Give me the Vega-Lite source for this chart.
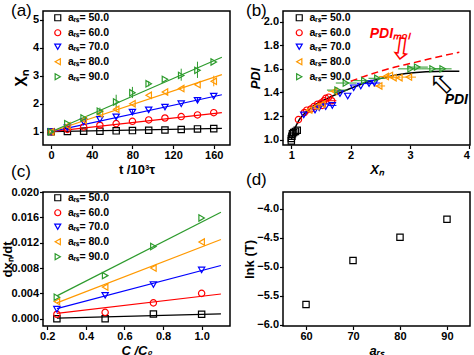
{
  "$schema": "https://vega.github.io/schema/vega-lite/v6.json",
  "background": "white",
  "autosize": {"type": "pad"},
  "padding": {"left": 0, "top": 1, "right": 0, "bottom": 0},
  "columns": 2,
  "spacing": {"row": 47, "column": 53},
  "bounds": "flush",
  "resolve": {
    "scale": {"x": "independent", "y": "independent", "color": "independent", "shape": "independent", "stroke": "independent"},
    "axis": {"x": "independent", "y": "independent"},
    "legend": {"color": "independent", "shape": "independent", "stroke": "independent"}
  },
  "config": {
    "font": "Liberation Sans",
    "view": {"stroke": "#000000", "strokeWidth": 1.5},
    "axis": {
      "grid": false, "domain": false,
      "tickColor": "#000000", "tickSize": 3.5, "tickWidth": 1.2,
      "labelFont": "Liberation Sans", "labelFontSize": 11, "labelFontWeight": "bold", "labelColor": "#000000", "labelPadding": 1,
      "titleFont": "Liberation Sans", "titleFontSize": 13, "titleFontWeight": "bold", "titleColor": "#000000", "titlePadding": 1
    },
    "axisX": {"titlePadding": 2.5},
    "axisY": {"titleBaseline": "middle"},
    "title": {"anchor": "start", "frame": "group", "font": "Liberation Sans", "fontSize": 17, "fontWeight": "normal", "color": "#000000", "baseline": "middle"},
    "legend": {
      "labelFont": "Liberation Sans", "labelFontSize": 10.5, "labelFontWeight": "bold", "labelColor": "#000000",
      "symbolSize": 36, "symbolStrokeWidth": 1.2, "labelOffset": 5, "rowPadding": 3, "padding": 0
    }
  },
  "concat": [
    {
      "width": 187, "height": 134,
      "title": {"text": "(a)", "offset": -9, "dx": -32},
      "encoding": {
        "x": {"field": "t", "type": "quantitative", "scale": {"domain": [-8, 176], "nice": false, "zero": false}, "axis": {"values": [0, 40, 80, 120, 160], "title": "t /10³τ"}},
        "y": {"field": "Xn", "type": "quantitative", "scale": {"domain": [0.525, 5.31], "nice": false, "zero": false}, "axis": {"values": [1, 2, 3, 4, 5], "title": "Xₙ", "titleX": -22, "titleFontSize": 16}}
      },
      "layer": [
        {
          "data": {"name": "a_fit"},
          "mark": {"type": "line", "strokeWidth": 1.2},
          "encoding": {
            "stroke": {"field": "aRS", "type": "nominal", "scale": {"domain": [50, 60, 70, 80, 90, 0], "range": ["#000000", "#ff0000", "#0000ff", "#ff9900", "#2d9b2d", "#888888"]}, "legend": null}
          }
        },
        {
          "data": {"name": "a_err"},
          "mark": {"type": "rule", "strokeWidth": 1},
          "encoding": {
            "y": {"field": "lo", "type": "quantitative", "scale": {"domain": [0.525, 5.31], "nice": false, "zero": false}, "axis": {"values": [1, 2, 3, 4, 5], "title": "Xₙ", "titleX": -22, "titleFontSize": 16}},
            "y2": {"field": "hi"},
            "stroke": {"field": "aRS", "type": "nominal", "scale": {"domain": [50, 60, 70, 80, 90, 0], "range": ["#000000", "#ff0000", "#0000ff", "#ff9900", "#2d9b2d", "#888888"]}, "legend": null}
          }
        },
        {
          "data": {"name": "a_pts"},
          "mark": {"type": "point", "filled": false, "size": 40, "strokeWidth": 1.2, "opacity": 1},
          "encoding": {
            "color": {"field": "aRS", "type": "nominal", "scale": {"domain": [50, 60, 70, 80, 90], "range": ["#000000", "#ff0000", "#0000ff", "#ff9900", "#2d9b2d"]},
              "legend": {"title": null, "orient": "none", "legendX": 9.5, "legendY": 1.5, "labelExpr": "'aᵣₛ= ' + format(datum.value, '.1f')"}},
            "shape": {"field": "aRS", "type": "nominal", "scale": {"domain": [50, 60, 70, 80, 90], "range": ["square", "circle", "triangle-down", "triangle-left", "triangle-right"]},
              "legend": {"title": null, "orient": "none", "legendX": 9.5, "legendY": 1.5, "labelExpr": "'aᵣₛ= ' + format(datum.value, '.1f')"}}
          }
        }
      ]
    },
    {
      "width": 187, "height": 134,
      "title": {"text": "(b)", "offset": -9, "dx": -37},
      "encoding": {
        "x": {"field": "X", "type": "quantitative", "scale": {"domain": [0.86, 4.01], "nice": false, "zero": false}, "axis": {"values": [1, 2, 3, 4], "title": "Xₙ", "titleFontStyle": "italic"}},
        "y": {"field": "PDI", "type": "quantitative", "scale": {"domain": [0.955, 2.09], "nice": false, "zero": false}, "axis": {"values": [1.0, 1.2, 1.4, 1.6, 1.8, 2.0], "format": ".1f", "title": "PDI", "titleFontStyle": "italic", "titleX": -28}}
      },
      "layer": [
        {
          "data": {"name": "b_pdi"},
          "mark": {"type": "line", "strokeWidth": 1.5, "color": "#000000", "interpolate": "monotone"}
        },
        {
          "data": {"name": "b_mol"},
          "mark": {"type": "line", "strokeWidth": 1.5, "color": "#ff0000", "strokeDash": [7, 4], "interpolate": "monotone"}
        },
        {
          "data": {"name": "b_err"},
          "mark": {"type": "rule", "strokeWidth": 1},
          "encoding": {
            "x": {"field": "xlo", "type": "quantitative", "scale": {"domain": [0.86, 4.01], "nice": false, "zero": false}, "axis": {"values": [1, 2, 3, 4], "title": "Xₙ", "titleFontStyle": "italic"}},
            "x2": {"field": "xhi"},
            "stroke": {"field": "aRS", "type": "nominal", "scale": {"domain": [50, 60, 70, 80, 90, 0], "range": ["#000000", "#ff0000", "#0000ff", "#ff9900", "#2d9b2d", "#888888"]}, "legend": null}
          }
        },
        {
          "data": {"name": "b_pts"},
          "mark": {"type": "point", "filled": false, "size": 40, "strokeWidth": 1.2, "opacity": 1},
          "encoding": {
            "color": {"field": "aRS", "type": "nominal", "scale": {"domain": [50, 60, 70, 80, 90], "range": ["#000000", "#ff0000", "#0000ff", "#ff9900", "#2d9b2d"]},
              "legend": {"title": null, "orient": "none", "legendX": 11, "legendY": 1.5, "labelExpr": "'aᵣₛ= ' + format(datum.value, '.1f')"}},
            "shape": {"field": "aRS", "type": "nominal", "scale": {"domain": [50, 60, 70, 80, 90], "range": ["square", "circle", "triangle-down", "triangle-left", "triangle-right"]},
              "legend": {"title": null, "orient": "none", "legendX": 11, "legendY": 1.5, "labelExpr": "'aᵣₛ= ' + format(datum.value, '.1f')"}}
          }
        },
        {
          "data": {"name": "b_ann"},
          "transform": [{"filter": "datum.k == 'moltext'"}],
          "mark": {"type": "text", "color": "#ff0000", "font": "Liberation Sans", "fontSize": 14, "fontWeight": "bold", "fontStyle": "italic"},
          "encoding": {"text": {"field": "label"}}
        },
        {
          "data": {"name": "b_ann"},
          "transform": [{"filter": "datum.k == 'pditext'"}],
          "mark": {"type": "text", "color": "#000000", "font": "Liberation Sans", "fontSize": 14, "fontWeight": "bold", "fontStyle": "italic"},
          "encoding": {"text": {"field": "label"}}
        },
        {
          "data": {"name": "b_ann"},
          "transform": [{"filter": "datum.k == 'molarrow'"}],
          "mark": {"type": "text", "color": "#ff0000", "font": "DejaVu Sans", "fontSize": 30, "angle": 8},
          "encoding": {"text": {"field": "label"}}
        },
        {
          "data": {"name": "b_ann"},
          "transform": [{"filter": "datum.k == 'pdiarrow'"}],
          "mark": {"type": "text", "color": "#000000", "font": "DejaVu Sans", "fontSize": 30, "angle": -45},
          "encoding": {"text": {"field": "label"}}
        }
      ]
    },
    {
      "width": 187, "height": 134,
      "title": {"text": "(c)", "offset": 5, "dx": -32},
      "encoding": {
        "x": {"field": "c", "type": "quantitative", "scale": {"domain": [0.178, 1.147], "nice": false, "zero": false}, "axis": {"values": [0.2, 0.4, 0.6, 0.8, 1.0], "format": ".1f", "title": "C /C₀", "titleFontStyle": "italic"}},
        "y": {"field": "rate", "type": "quantitative", "scale": {"domain": [-0.00115, 0.0200], "nice": false, "zero": false}, "axis": {"values": [0, 0.004, 0.008, 0.012, 0.016, 0.020], "format": ".3f", "title": "dxₙ/dt", "titleX": -36}}
      },
      "layer": [
        {
          "data": {"name": "c_fit"},
          "mark": {"type": "line", "strokeWidth": 1.2},
          "encoding": {
            "stroke": {"field": "aRS", "type": "nominal", "scale": {"domain": [50, 60, 70, 80, 90, 0], "range": ["#000000", "#ff0000", "#0000ff", "#ff9900", "#2d9b2d", "#888888"]}, "legend": null}
          }
        },
        {
          "data": {"name": "c_pts"},
          "mark": {"type": "point", "filled": false, "size": 40, "strokeWidth": 1.2, "opacity": 1},
          "encoding": {
            "color": {"field": "aRS", "type": "nominal", "scale": {"domain": [50, 60, 70, 80, 90], "range": ["#000000", "#ff0000", "#0000ff", "#ff9900", "#2d9b2d"]},
              "legend": {"title": null, "orient": "none", "legendX": 9.5, "legendY": 0.5, "labelExpr": "'aᵣₛ= ' + format(datum.value, '.1f')"}},
            "shape": {"field": "aRS", "type": "nominal", "scale": {"domain": [50, 60, 70, 80, 90], "range": ["square", "circle", "triangle-down", "triangle-left", "triangle-right"]},
              "legend": {"title": null, "orient": "none", "legendX": 9.5, "legendY": 0.5, "labelExpr": "'aᵣₛ= ' + format(datum.value, '.1f')"}}
          }
        }
      ]
    },
    {
      "width": 187, "height": 134,
      "title": {"text": "(d)", "offset": 3, "dx": -37},
      "data": {"name": "d_pts"},
      "mark": {"type": "point", "shape": "square", "filled": false, "size": 40, "strokeWidth": 1.2, "color": "#000000", "opacity": 1},
      "encoding": {
        "x": {"field": "a", "type": "quantitative", "scale": {"domain": [55.1, 94.9], "nice": false, "zero": false}, "axis": {"values": [60, 70, 80, 90], "title": "aᵣₛ", "titleFontStyle": "italic"}},
        "y": {"field": "lnk", "type": "quantitative", "scale": {"domain": [-6.02, -3.71], "nice": false, "zero": false}, "axis": {"values": [-6.0, -5.5, -5.0, -4.5, -4.0], "format": ".1f", "title": "lnk (T)", "titleX": -34}}
      }
    }
  ],
  "datasets": {
    "a_pts": [
      {"t": 0, "Xn": 1.0, "aRS": 50}, {"t": 16, "Xn": 1.01, "aRS": 50}, {"t": 32, "Xn": 1.02, "aRS": 50}, {"t": 48, "Xn": 1.02, "aRS": 50}, {"t": 64, "Xn": 1.03, "aRS": 50}, {"t": 80, "Xn": 1.04, "aRS": 50}, {"t": 96, "Xn": 1.05, "aRS": 50}, {"t": 112, "Xn": 1.06, "aRS": 50}, {"t": 128, "Xn": 1.08, "aRS": 50}, {"t": 144, "Xn": 1.10, "aRS": 50}, {"t": 160, "Xn": 1.11, "aRS": 50},
      {"t": 0, "Xn": 1.0, "aRS": 60}, {"t": 16, "Xn": 1.08, "aRS": 60}, {"t": 32, "Xn": 1.17, "aRS": 60}, {"t": 48, "Xn": 1.23, "aRS": 60}, {"t": 64, "Xn": 1.29, "aRS": 60}, {"t": 80, "Xn": 1.37, "aRS": 60}, {"t": 96, "Xn": 1.42, "aRS": 60}, {"t": 112, "Xn": 1.49, "aRS": 60}, {"t": 128, "Xn": 1.54, "aRS": 60}, {"t": 144, "Xn": 1.60, "aRS": 60}, {"t": 160, "Xn": 1.68, "aRS": 60},
      {"t": 0, "Xn": 1.0, "aRS": 70}, {"t": 16, "Xn": 1.15, "aRS": 70}, {"t": 32, "Xn": 1.35, "aRS": 70}, {"t": 48, "Xn": 1.44, "aRS": 70}, {"t": 64, "Xn": 1.53, "aRS": 70}, {"t": 80, "Xn": 1.70, "aRS": 70}, {"t": 96, "Xn": 1.78, "aRS": 70}, {"t": 112, "Xn": 1.88, "aRS": 70}, {"t": 128, "Xn": 2.0, "aRS": 70}, {"t": 144, "Xn": 2.12, "aRS": 70}, {"t": 160, "Xn": 2.27, "aRS": 70},
      {"t": 0, "Xn": 1.0, "aRS": 80}, {"t": 16, "Xn": 1.21, "aRS": 80}, {"t": 32, "Xn": 1.42, "aRS": 80}, {"t": 48, "Xn": 1.64, "aRS": 80}, {"t": 64, "Xn": 1.80, "aRS": 80}, {"t": 80, "Xn": 2.0, "aRS": 80}, {"t": 96, "Xn": 2.30, "aRS": 80}, {"t": 112, "Xn": 2.42, "aRS": 80}, {"t": 128, "Xn": 2.54, "aRS": 80}, {"t": 144, "Xn": 2.68, "aRS": 80}, {"t": 160, "Xn": 2.80, "aRS": 80},
      {"t": 0, "Xn": 1.0, "aRS": 90}, {"t": 16, "Xn": 1.29, "aRS": 90}, {"t": 32, "Xn": 1.49, "aRS": 90}, {"t": 48, "Xn": 1.73, "aRS": 90}, {"t": 64, "Xn": 2.06, "aRS": 90}, {"t": 80, "Xn": 2.39, "aRS": 90}, {"t": 96, "Xn": 2.71, "aRS": 90}, {"t": 112, "Xn": 2.87, "aRS": 90}, {"t": 128, "Xn": 3.01, "aRS": 90}, {"t": 144, "Xn": 3.19, "aRS": 90}, {"t": 160, "Xn": 3.49, "aRS": 90}
    ],
    "a_fit": [
      {"t": 0, "Xn": 1.0, "aRS": 50}, {"t": 168, "Xn": 1.12, "aRS": 50},
      {"t": 0, "Xn": 1.0, "aRS": 60}, {"t": 168, "Xn": 1.68, "aRS": 60},
      {"t": 0, "Xn": 1.0, "aRS": 70}, {"t": 168, "Xn": 2.32, "aRS": 70},
      {"t": 0, "Xn": 1.0, "aRS": 80}, {"t": 168, "Xn": 3.04, "aRS": 80},
      {"t": 0, "Xn": 1.0, "aRS": 90}, {"t": 168, "Xn": 3.66, "aRS": 90}
    ],
    "a_err": [
      {"t": 48, "lo": 1.6, "hi": 1.86, "aRS": 90}, {"t": 64, "lo": 1.85, "hi": 2.32, "aRS": 90}, {"t": 80, "lo": 2.2, "hi": 2.6, "aRS": 90}, {"t": 96, "lo": 2.62, "hi": 2.8, "aRS": 90}, {"t": 128, "lo": 2.82, "hi": 3.25, "aRS": 90}, {"t": 144, "lo": 2.92, "hi": 3.5, "aRS": 90},
      {"t": 160, "lo": 2.62, "hi": 3.0, "aRS": 80}, {"t": 64, "lo": 1.7, "hi": 1.9, "aRS": 80},
      {"t": 144, "lo": 2.04, "hi": 2.2, "aRS": 70}, {"t": 80, "lo": 1.62, "hi": 1.78, "aRS": 70}
    ],
    "b_pdi": [
      {"X": 1.0, "PDI": 1.0}, {"X": 1.05, "PDI": 1.08}, {"X": 1.13, "PDI": 1.165}, {"X": 1.2, "PDI": 1.21}, {"X": 1.35, "PDI": 1.278}, {"X": 1.5, "PDI": 1.325}, {"X": 1.65, "PDI": 1.36}, {"X": 1.9, "PDI": 1.415}, {"X": 2.25, "PDI": 1.483}, {"X": 2.6, "PDI": 1.53}, {"X": 2.93, "PDI": 1.56}, {"X": 3.27, "PDI": 1.576}, {"X": 3.6, "PDI": 1.58}, {"X": 3.83, "PDI": 1.58}
    ],
    "b_mol": [
      {"X": 2.0, "PDI": 1.495}, {"X": 2.25, "PDI": 1.54}, {"X": 2.5, "PDI": 1.58}, {"X": 2.75, "PDI": 1.615}, {"X": 3.0, "PDI": 1.645}, {"X": 3.25, "PDI": 1.675}, {"X": 3.5, "PDI": 1.705}, {"X": 3.83, "PDI": 1.74}
    ],
    "b_ann": [
      {"k": "moltext", "X": 2.66, "PDI": 1.895, "label": "PDIₘₒₗ"},
      {"k": "molarrow", "X": 2.85, "PDI": 1.756, "label": "⇩"},
      {"k": "pditext", "X": 3.78, "PDI": 1.34, "label": "PDI"},
      {"k": "pdiarrow", "X": 3.55, "PDI": 1.462, "label": "⇧"}
    ],
    "b_err": [
      {"PDI": 1.28, "xlo": 1.33, "xhi": 1.43, "aRS": 60}, {"PDI": 1.33, "xlo": 1.5, "xhi": 1.6, "aRS": 60}, {"PDI": 1.33, "xlo": 1.62, "xhi": 1.76, "aRS": 60},
      {"PDI": 1.29, "xlo": 1.62, "xhi": 1.76, "aRS": 70}, {"PDI": 1.475, "xlo": 2.22, "xhi": 2.4, "aRS": 70}, {"PDI": 1.48, "xlo": 2.3, "xhi": 2.5, "aRS": 70},
      {"PDI": 1.41, "xlo": 1.62, "xhi": 1.82, "aRS": 80}, {"PDI": 1.455, "xlo": 2.38, "xhi": 2.58, "aRS": 80}, {"PDI": 1.535, "xlo": 2.48, "xhi": 2.7, "aRS": 80}, {"PDI": 1.525, "xlo": 2.6, "xhi": 2.84, "aRS": 80}, {"PDI": 1.53, "xlo": 2.86, "xhi": 3.1, "aRS": 80},
      {"PDI": 1.42, "xlo": 1.6, "xhi": 1.95, "aRS": 90}, {"PDI": 1.48, "xlo": 1.75, "xhi": 2.1, "aRS": 90}, {"PDI": 1.50, "xlo": 2.05, "xhi": 2.4, "aRS": 90}, {"PDI": 1.52, "xlo": 2.3, "xhi": 2.6, "aRS": 90}, {"PDI": 1.60, "xlo": 2.8, "xhi": 3.2, "aRS": 90}, {"PDI": 1.615, "xlo": 2.95, "xhi": 3.3, "aRS": 90}, {"PDI": 1.60, "xlo": 3.2, "xhi": 3.55, "aRS": 90}, {"PDI": 1.60, "xlo": 3.4, "xhi": 3.7, "aRS": 90}
    ],
    "b_pts": [
      {"X": 1.0, "PDI": 0.99, "aRS": 50}, {"X": 1.0, "PDI": 1.01, "aRS": 50}, {"X": 1.01, "PDI": 1.03, "aRS": 50}, {"X": 1.02, "PDI": 1.05, "aRS": 50}, {"X": 1.04, "PDI": 1.06, "aRS": 50}, {"X": 1.07, "PDI": 1.07, "aRS": 50}, {"X": 1.1, "PDI": 1.08, "aRS": 50},
      {"X": 1.12, "PDI": 1.17, "aRS": 60}, {"X": 1.22, "PDI": 1.23, "aRS": 60}, {"X": 1.26, "PDI": 1.25, "aRS": 60}, {"X": 1.33, "PDI": 1.26, "aRS": 60}, {"X": 1.38, "PDI": 1.28, "aRS": 60}, {"X": 1.44, "PDI": 1.30, "aRS": 60}, {"X": 1.50, "PDI": 1.31, "aRS": 60}, {"X": 1.55, "PDI": 1.33, "aRS": 60}, {"X": 1.58, "PDI": 1.35, "aRS": 60}, {"X": 1.63, "PDI": 1.36, "aRS": 60}, {"X": 1.68, "PDI": 1.33, "aRS": 60}, {"X": 1.52, "PDI": 1.29, "aRS": 60},
      {"X": 1.21, "PDI": 1.21, "aRS": 70}, {"X": 1.40, "PDI": 1.25, "aRS": 70}, {"X": 1.47, "PDI": 1.27, "aRS": 70}, {"X": 1.58, "PDI": 1.28, "aRS": 70}, {"X": 1.69, "PDI": 1.29, "aRS": 70}, {"X": 1.82, "PDI": 1.39, "aRS": 70}, {"X": 1.95, "PDI": 1.37, "aRS": 70}, {"X": 2.05, "PDI": 1.44, "aRS": 70}, {"X": 2.17, "PDI": 1.455, "aRS": 70}, {"X": 2.31, "PDI": 1.475, "aRS": 70}, {"X": 2.40, "PDI": 1.48, "aRS": 70},
      {"X": 1.30, "PDI": 1.25, "aRS": 80}, {"X": 1.42, "PDI": 1.28, "aRS": 80}, {"X": 1.52, "PDI": 1.30, "aRS": 80}, {"X": 1.72, "PDI": 1.41, "aRS": 80}, {"X": 2.48, "PDI": 1.455, "aRS": 80}, {"X": 2.59, "PDI": 1.535, "aRS": 80}, {"X": 2.66, "PDI": 1.545, "aRS": 80}, {"X": 2.72, "PDI": 1.525, "aRS": 80}, {"X": 2.82, "PDI": 1.525, "aRS": 80}, {"X": 2.98, "PDI": 1.53, "aRS": 80},
      {"X": 1.78, "PDI": 1.42, "aRS": 90}, {"X": 1.92, "PDI": 1.48, "aRS": 90}, {"X": 2.23, "PDI": 1.50, "aRS": 90}, {"X": 2.45, "PDI": 1.52, "aRS": 90}, {"X": 3.01, "PDI": 1.60, "aRS": 90}, {"X": 3.12, "PDI": 1.615, "aRS": 90}, {"X": 3.38, "PDI": 1.60, "aRS": 90}, {"X": 3.55, "PDI": 1.60, "aRS": 90}
    ],
    "c_pts": [
      {"c": 0.25, "rate": 0.0, "aRS": 50}, {"c": 0.5, "rate": 0.0, "aRS": 50}, {"c": 0.75, "rate": 0.00074, "aRS": 50}, {"c": 1.0, "rate": 0.0007, "aRS": 50},
      {"c": 0.25, "rate": 0.0007, "aRS": 60}, {"c": 0.5, "rate": 0.001, "aRS": 60}, {"c": 0.75, "rate": 0.0025, "aRS": 60}, {"c": 1.0, "rate": 0.004, "aRS": 60},
      {"c": 0.25, "rate": 0.0015, "aRS": 70}, {"c": 0.5, "rate": 0.0037, "aRS": 70}, {"c": 0.75, "rate": 0.0054, "aRS": 70}, {"c": 1.0, "rate": 0.0077, "aRS": 70},
      {"c": 0.25, "rate": 0.0027, "aRS": 80}, {"c": 0.5, "rate": 0.005, "aRS": 80}, {"c": 0.75, "rate": 0.008, "aRS": 80}, {"c": 1.0, "rate": 0.0121, "aRS": 80},
      {"c": 0.25, "rate": 0.0034, "aRS": 90}, {"c": 0.5, "rate": 0.0068, "aRS": 90}, {"c": 0.75, "rate": 0.0114, "aRS": 90}, {"c": 1.0, "rate": 0.0159, "aRS": 90}
    ],
    "c_fit": [
      {"c": 0.25, "rate": 0.0001, "aRS": 50}, {"c": 1.1, "rate": 0.00075, "aRS": 50},
      {"c": 0.25, "rate": 0.00085, "aRS": 60}, {"c": 1.1, "rate": 0.0039, "aRS": 60},
      {"c": 0.25, "rate": 0.0016, "aRS": 70}, {"c": 1.1, "rate": 0.0084, "aRS": 70},
      {"c": 0.25, "rate": 0.0025, "aRS": 80}, {"c": 1.1, "rate": 0.0125, "aRS": 80},
      {"c": 0.25, "rate": 0.0036, "aRS": 90}, {"c": 1.1, "rate": 0.0168, "aRS": 90}
    ],
    "d_pts": [
      {"a": 60, "lnk": -5.65}, {"a": 70, "lnk": -4.89}, {"a": 80, "lnk": -4.49}, {"a": 90, "lnk": -4.18}
    ]
  }
}
